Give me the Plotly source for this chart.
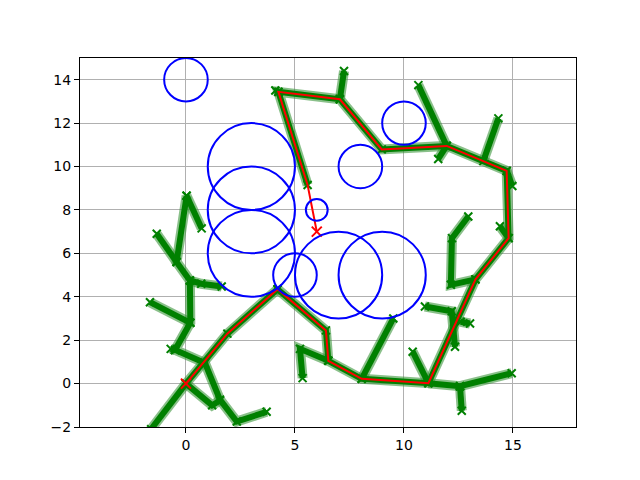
import plotly.graph_objects as go

# Obstacles (centre x, centre y, radius)
obstacle_x = [0, 3, 3, 3, 5, 7, 9, 8, 10, 6]
obstacle_y = [14, 10, 8, 6, 5, 5, 5, 10, 12, 8]
obstacle_r = [1, 2, 2, 2, 1, 2, 2, 1, 1, 0.5]

start_xy = (0, 0)
goal_xy = (6, 7)

# Tree branches (polylines separated by None)
tree_x = [-1.6, 0, None,
          0, 1.9, 4.2, None,
          0, 1.2, 1.56, None,
          0.03, -0.43, 0.18, 0.2, -0.5, 0.87, 1.56, 2.33, 3.7, None,
          0.03, 0.72, None,
          -0.43, -1.34, None,
          0.18, 0.7, 1.64, None,
          0.2, -1.65, None,
          -0.5, -0.7, None,
          4.2, 6.42, 6.53, 8.06, 11.12, 13.28, 14.8, 14.71, 11.96, 8.98, 7.06, 4.24, 5.58, None,
          6.53, 5.23, 5.35, None,
          8.06, 9.51, None,
          11.12, 10.4, None,
          11.12, 12.57, 14.94, None,
          12.57, 12.65, None,
          13.28, 12.15, 12.2, 12.95, None,
          10.96, 12.19, 12.34, None,
          12.6, 13.03, None,
          14.8, 14.4, None,
          14.71, 14.97, None,
          11.96, 10.66, None,
          11.96, 11.57, None,
          13.64, 14.33, None,
          7.06, 7.25, None,
          4.24, 4.1]
tree_y = [-2.1, 0, None,
          0, 2.3, 4.35, None,
          0, -1.0, -0.78, None,
          8.65, 5.6, 4.75, 2.8, 1.55, 0.95, -0.74, -1.75, -1.3, None,
          8.65, 7.15, None,
          5.6, 6.9, None,
          4.75, 4.6, 4.47, None,
          2.8, 3.75, None,
          1.55, 1.6, None,
          4.35, 2.45, 1.05, 0.22, 0.02, 4.8, 6.7, 9.8, 10.95, 10.79, 13.1, 13.44, 9.15, None,
          1.05, 1.6, 0.25, None,
          0.22, 3.0, None,
          0.02, 1.47, None,
          0.02, -0.12, 0.48, None,
          -0.12, -1.25, None,
          4.8, 4.55, 6.7, 7.7, None,
          3.55, 3.33, 1.7, None,
          2.85, 2.77, None,
          6.7, 7.25, None,
          9.8, 9.1, None,
          10.95, 13.75, None,
          10.95, 10.35, None,
          10.25, 12.22, None,
          13.1, 14.4, None,
          13.44, 13.5]

# Final path
path_x = [0, 1.9, 4.2, 6.42, 6.53, 8.06, 11.12, 13.28, 14.8, 14.71, 11.96, 8.98, 7.06, 4.24, 5.58, 6]
path_y = [0, 2.3, 4.35, 2.45, 1.05, 0.22, 0.02, 4.8, 6.7, 9.8, 10.95, 10.79, 13.1, 13.44, 9.15, 7]

x_ticks = [0, 5, 10, 15]
y_ticks = [-2, 0, 2, 4, 6, 8, 10, 12, 14]

fig = go.Figure()

fig.add_trace(go.Scatter(x=tree_x, y=tree_y, mode="lines",
                         line=dict(color="rgba(60,150,60,0.6)", width=10),
                         hoverinfo="skip", showlegend=False))
fig.add_trace(go.Scatter(x=tree_x, y=tree_y, mode="lines+markers",
                         line=dict(color="#008000", width=6),
                         marker=dict(symbol="x-thin", size=8, line=dict(color="#008000", width=2)),
                         hoverinfo="skip", showlegend=False))

for cx, cy, r in zip(obstacle_x, obstacle_y, obstacle_r):
    fig.add_shape(type="circle", xref="x", yref="y",
                  x0=cx - r, x1=cx + r, y0=cy - r, y1=cy + r,
                  line=dict(color="blue", width=2), layer="above")

fig.add_trace(go.Scatter(x=path_x, y=path_y, mode="lines",
                         line=dict(color="red", width=2), showlegend=False))
fig.add_trace(go.Scatter(x=[start_xy[0], goal_xy[0]], y=[start_xy[1], goal_xy[1]],
                         mode="markers",
                         marker=dict(symbol="x-thin", size=10, line=dict(color="red", width=2)),
                         showlegend=False))

axis_common = dict(showgrid=True, gridcolor="#b0b0b0", gridwidth=1,
                   showline=True, linecolor="black", linewidth=1, mirror=True,
                   ticks="outside", ticklen=5, tickcolor="black", zeroline=False,
                   tickfont=dict(family="DejaVu Sans", size=14, color="black"))

fig.update_xaxes(range=[-4.86, 17.89], tickvals=x_ticks, **axis_common)
fig.update_yaxes(range=[-2, 15], tickvals=y_ticks, **axis_common)

fig.update_layout(width=632, height=472,
                  margin=dict(l=72, r=64, t=50, b=53),
                  plot_bgcolor="white", paper_bgcolor="white",
                  font=dict(family="DejaVu Sans"))

fig.write_html("out.html")
